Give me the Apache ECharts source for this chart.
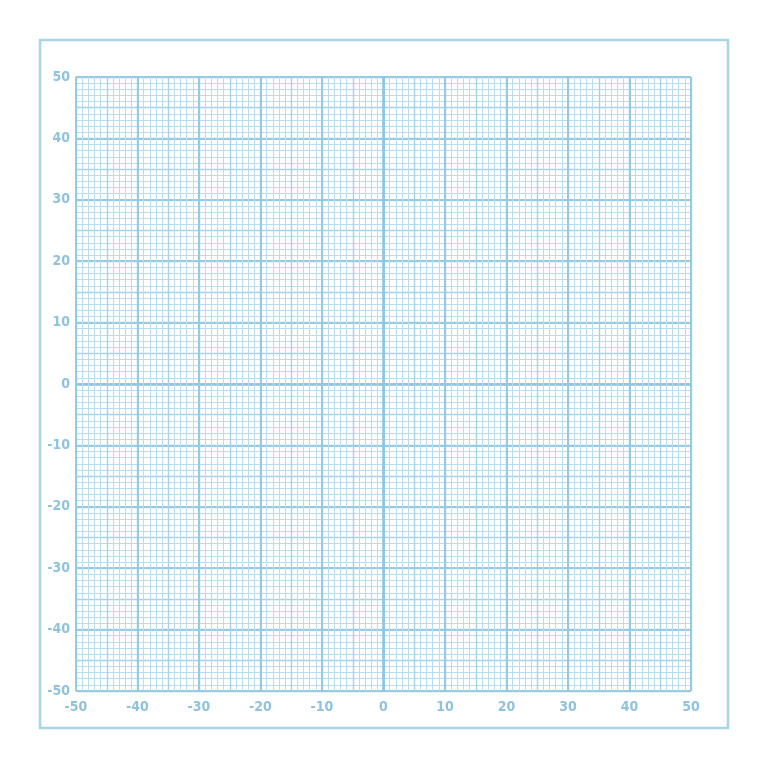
<!DOCTYPE html>
<html>
<head>
<meta charset="utf-8">
<script src="https://cdn.jsdelivr.net/npm/echarts@6/dist/echarts.min.js"></script>
<style>
html,body{margin:0;padding:0;background:#fff;}
#c{width:768px;height:768px;}
</style>
</head>
<body>
<div id="c"></div>
<script>
const axisMin = -50;
const axisMax = 50;
const minorStep = 1;
const mediumStep = 5;
const majorStep = 10;
const tickLabels = [-50, -40, -30, -20, -10, 0, 10, 20, 30, 40, 50];

const labelColor = '#8fc3dc';
const fontFam = '"Liberation Sans Narrow", "DejaVu Sans Condensed", "Roboto", sans-serif';

function layer(step, color, width, withLabels, isX) {
  return {
    type: 'value',
    min: axisMin,
    max: axisMax,
    interval: step,
    gridIndex: 0,
    axisLine: { show: false },
    axisTick: { show: false },
    splitArea: { show: false },
    minorTick: { show: false },
    minorSplitLine: { show: false },
    axisLabel: withLabels ? {
      show: true,
      color: labelColor,
      fontFamily: fontFam,
      fontSize: 14,
      fontWeight: 'bold',
      margin: isX ? 9 : 6,
      formatter: v => tickLabels.indexOf(v) >= 0 ? String(v) : ''
    } : { show: false },
    splitLine: { show: true, lineStyle: { color: color, width: width, opacity: 1 } },
    position: isX ? 'bottom' : 'left'
  };
}

function zeroLayer(isX) {
  return {
    type: 'value',
    min: axisMin,
    max: axisMax,
    interval: 50,
    gridIndex: 0,
    axisLine: { show: false },
    axisTick: { show: false },
    axisLabel: { show: false },
    splitArea: { show: false },
    splitLine: { show: true, lineStyle: { color: ['rgba(0,0,0,0)', '#88c6e4', 'rgba(0,0,0,0)'], width: 2.5 } },
    position: isX ? 'bottom' : 'left'
  };
}

const xAxes = [
  layer(minorStep, '#b9ddef', 1, false, true),
  layer(mediumStep, '#a4d2e8', 1.4, false, true),
  layer(majorStep, '#96c9e2', 2, true, true),
  zeroLayer(true)
];
const yAxes = [
  layer(minorStep, '#b9ddef', 1, false, false),
  layer(mediumStep, '#a4d2e8', 1.4, false, false),
  layer(majorStep, '#96c9e2', 2, true, false),
  zeroLayer(false)
];

const chart = echarts.init(document.getElementById('c'), null, { renderer: 'canvas' });
chart.setOption({
  animation: false,
  backgroundColor: '#ffffff',
  grid: { left: 76, top: 77, width: 615, height: 614, containLabel: false, show: false },
  xAxis: xAxes,
  yAxis: yAxes,
  graphic: [{
    type: 'rect',
    shape: { x: 40, y: 40, width: 688, height: 688 },
    style: { fill: 'none', stroke: '#a8d4e8', lineWidth: 2.5 },
    silent: true
  }],
  series: [{ type: 'scatter', data: [], xAxisIndex: 2, yAxisIndex: 2 }]
});
</script>
</body>
</html>
